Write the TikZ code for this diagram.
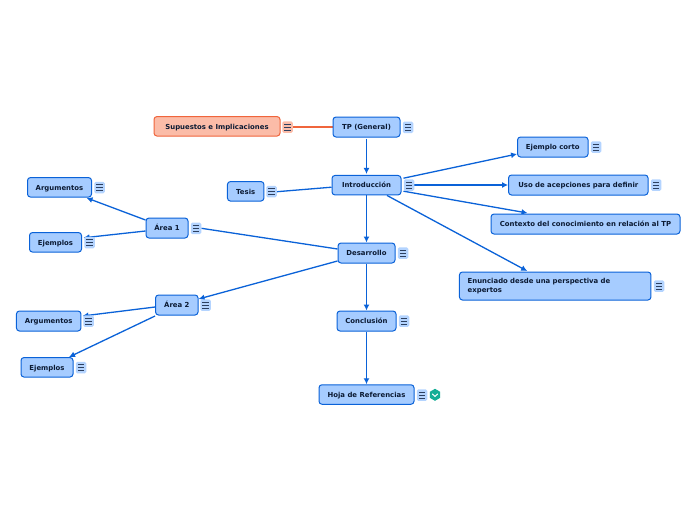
\documentclass[tikz,border=0pt]{standalone}
\usepackage{fontspec}
\setmainfont{DejaVu Sans}
\usetikzlibrary{arrows.meta,backgrounds,shapes.geometric}
\definecolor{boxfill}{HTML}{A6CCFF}
\definecolor{boxline}{HTML}{0A62D8}
\definecolor{iconfill}{HTML}{B4D4FF}
\definecolor{orfill}{HTML}{FBBCA8}
\definecolor{orline}{HTML}{F0653C}
\definecolor{hexgreen}{HTML}{14AE96}
\definecolor{inkdark}{HTML}{0B1A33}
\definecolor{iconink}{HTML}{2D4060}
\tikzset{
  topic/.style={draw=boxline,fill=boxfill,line width=1pt,rounded corners=3pt,inner sep=0pt,
    font=\bfseries\fontsize{6.9}{8}\selectfont,text=inkdark,align=center,text height=6.6pt,text depth=1.2pt},
  ortopic/.style={topic,draw=orline,fill=orfill},
  menubox/.style={fill=iconfill,rounded corners=1.5pt,minimum width=10.5pt,minimum height=11.5pt,inner sep=0pt,
    path picture={
      \draw[iconink,line width=.5pt]
        ([shift={(-3.2pt,-3pt)}]path picture bounding box.center) -- ++(6.4pt,0)
        ([shift={(-3.2pt,0pt)}]path picture bounding box.center) -- ++(6.4pt,0)
        ([shift={(-3.2pt,3pt)}]path picture bounding box.center) -- ++(6.4pt,0);}},
  ormenu/.style={menubox,fill=orfill},
  conn/.style={boxline,line width=1.3pt,-{Latex[length=6pt,width=6pt]}},
  plainconn/.style={boxline,line width=1.3pt},
}
\begin{document}
\begin{tikzpicture}[x=1pt,y=-1pt]
\useasboundingbox (0,0) rectangle (697,520);
% topics
\node[ortopic,minimum width=126pt,minimum height=19.5pt] (sup) at (217,126.3) {Supuestos e Implicaciones};
\node[topic,minimum width=67pt,minimum height=20pt] (tp) at (366.5,127) {TP (General)};
\node[topic,minimum width=69pt,minimum height=19.5pt] (intro) at (366.5,185.2) {Introducción};
\node[topic,minimum width=36.5pt,minimum height=19.5pt] (tesis) at (245.7,191.3) {Tesis};
\node[topic,minimum width=70.5pt,minimum height=20pt] (corto) at (552.8,147) {Ejemplo corto};
\node[topic,minimum width=139.5pt,minimum height=20pt] (uso) at (578.3,185) {Uso de acepciones para definir};
\node[topic,minimum width=189pt,minimum height=20pt] (ctx) at (585.5,224) {Contexto del conocimiento en relación al TP};
\node[topic,minimum width=191.5pt,minimum height=28pt,text width=175pt,align=left,text height=,text depth=] (enun) at (555.2,286) {Enunciado desde una perspectiva de\\[0.5pt]expertos};
\node[topic,minimum width=57pt,minimum height=20pt] (des) at (366.5,253) {Desarrollo};
\node[topic,minimum width=42pt,minimum height=20pt] (a1) at (167,228) {Área 1};
\node[topic,minimum width=42.5pt,minimum height=20pt] (a2) at (176.8,305) {Área 2};
\node[topic,minimum width=64pt,minimum height=19.5pt] (arg1) at (59.5,187.3) {Argumentos};
\node[topic,minimum width=52pt,minimum height=19.5pt] (ej1) at (55.5,242.3) {Ejemplos};
\node[topic,minimum width=64.5pt,minimum height=20pt] (arg2) at (48.7,321) {Argumentos};
\node[topic,minimum width=52pt,minimum height=19.5pt] (ej2) at (47,367.3) {Ejemplos};
\node[topic,minimum width=59pt,minimum height=20pt] (con) at (366.5,321) {Conclusión};
\node[topic,minimum width=95pt,minimum height=19.5pt] (hoja) at (366.5,394.5) {Hoja de Referencias};
% menu icons
\node[ormenu] (msup) at (287.5,127) {};
\node[menubox] (mtp) at (408,127.3) {};
\node[menubox] (mintro) at (409,185) {};
\node[menubox] (mtesis) at (271.5,191.7) {};
\node[menubox] (mcorto) at (596,147) {};
\node[menubox] (muso) at (656,185) {};
\node[menubox] (menun) at (659,286) {};
\node[menubox] (mdes) at (403,253) {};
\node[menubox] (ma1) at (196,228.3) {};
\node[menubox] (ma2) at (205.5,305) {};
\node[menubox] (marg1) at (99.5,187.5) {};
\node[menubox] (mej1) at (89.5,242.7) {};
\node[menubox] (marg2) at (88.5,321) {};
\node[menubox] (mej2) at (81,367.5) {};
\node[menubox] (mcon) at (404,321) {};
\node[menubox] (mhoja) at (422,395) {};
% extra icon
\node[regular polygon,regular polygon sides=6,shape border rotate=30,fill=hexgreen,minimum size=12pt,inner sep=0pt] (hex) at (435,394.8) {};
\draw[white,line width=1pt,line cap=round,line join=round] ([shift={(-2.6pt,0.8pt)}]hex.center) -- ([shift={(0pt,-1.6pt)}]hex.center) -- ([shift={(2.6pt,0.8pt)}]hex.center);
% connectors
\begin{scope}[on background layer]
\fill[white] (0,0) rectangle (697,520);
\draw[orline,line width=1.3pt] (tp.west) -- (msup.east);
\draw[conn] ([yshift=-1pt]tp.south) -- ([yshift=1pt]intro.north);
\draw[plainconn] ([yshift=-2pt]intro.west) -- (mtesis.east);
\draw[conn] ([yshift=7pt,xshift=2pt]intro.east) -- ([yshift=-7pt]corto.west);
\draw[conn] (mintro.east) -- (uso.west);
\draw[conn] ([yshift=-6pt,xshift=2pt]intro.east) -- ([xshift=-58pt,yshift=0.5pt]ctx.north);
\draw[conn] ([xshift=20.5pt]intro.south) -- ([xshift=-28pt,yshift=0.5pt]enun.north);
\draw[conn] (intro.south) -- (des.north);
\draw[conn] (des.south) -- (con.north);
\draw[conn] (con.south) -- (hoja.north);
\draw[plainconn] ([yshift=4pt]des.west) -- (ma1.east);
\draw[conn] ([yshift=-8pt]des.west) -- ([yshift=6pt]a2.east);
\draw[conn] ([yshift=8pt]a1.west) -- ([xshift=27pt,yshift=-0.3pt]arg1.south);
\draw[conn] ([yshift=-3pt]a1.west) -- ([yshift=4.5pt,xshift=1.5pt]ej1.east);
\draw[conn] ([yshift=-2pt]a2.west) -- ([yshift=5pt,xshift=1pt]arg2.east);
\draw[conn] ([yshift=-11pt]a2.west) -- ([xshift=22pt]ej2.north);
\end{scope}
\end{tikzpicture}
\end{document}
